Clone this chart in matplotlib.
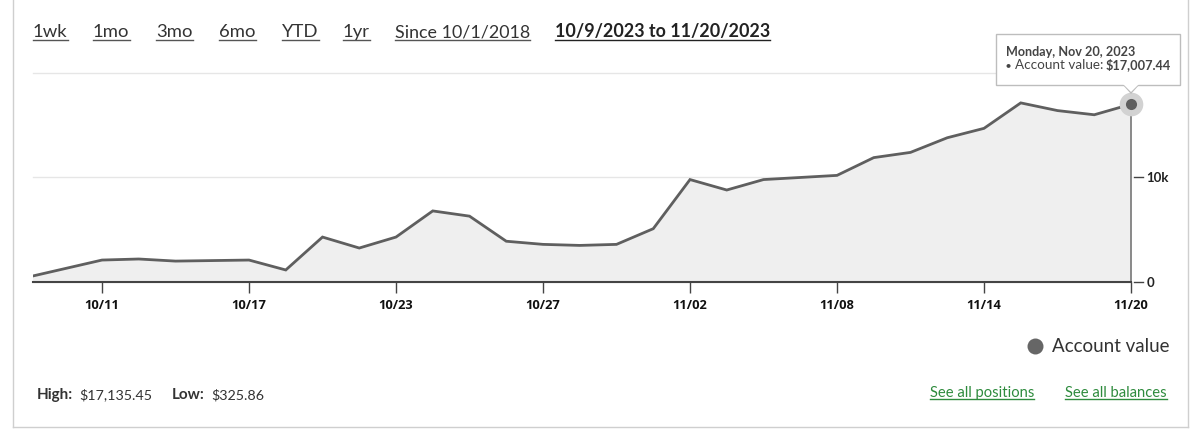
import matplotlib
matplotlib.use("Agg")
import matplotlib.pyplot as plt
from matplotlib.patches import Polygon, Rectangle

W, H = 1200, 432

# one value per trading day, 10/9/2023 to 11/20/2023
dias = ['10/09', '10/10', '10/11', '10/12', '10/13', '10/16', '10/17', '10/18',
        '10/19', '10/20', '10/23', '10/24', '10/25', '10/26', '10/27', '10/30',
        '10/31', '11/01', '11/02', '11/03', '11/06', '11/07', '11/08', '11/09',
        '11/10', '11/13', '11/14', '11/15', '11/16', '11/17', '11/20']
valores = [480, 1290, 2100, 2200, 2000, 2050, 2100, 1150,
           4300, 3250, 4300, 6800, 6300, 3900, 3600, 3500,
           3600, 5100, 9800, 8800, 9800, 10000, 10200, 11900,
           12400, 13800, 14700, 17135, 16400, 16000, 17007]
x_ticks = ['10/11', '10/17', '10/23', '10/27', '11/02', '11/08', '11/14', '11/20']
y_ticks = [0, 10000, 20000]
y_labels = ['0', '10k', '']
periodos = ['1wk', '1mo', '3mo', '6mo', 'YTD', '1yr', 'Since 10/1/2018']
periodos_x = [33, 93, 156, 219, 282, 343, 395]
periodos_tam = [13.3, 13.3, 13.3, 13.3, 13.3, 13.3, 12.9]

plt.rcParams['font.family'] = ['Lato', 'DejaVu Sans']

fig = plt.figure(figsize=(W / 100, H / 100), dpi=100)
ax = fig.add_axes([33 / W, 1 - 282 / H, (1131 - 33) / W, (282 - 74) / H])
# the first day starts a little left of the plot area and gets clipped
ax.set_xlim(0.122, len(dias) - 1)
ax.set_ylim(0, 19900)

x = list(range(len(dias)))
ax.fill_between(x, valores, 0, color='#efefef', lw=0)
ax.plot(x, valores, color='#5f5f5f', lw=2, solid_joinstyle='miter')

ax.set_yticks(y_ticks[:2], y_labels[:2], fontsize=9.5, fontweight='bold', color='#222222')
ax.yaxis.tick_right()
ax.tick_params(axis='y', length=0, pad=11)
for v in y_ticks:
    ax.plot([0, 1], [v, v], transform=ax.get_yaxis_transform(), color='#e6e6e6', lw=1, zorder=0, clip_on=False)
ax.plot([1.003, 1.011], [0, 0], transform=ax.get_yaxis_transform(), color='#444444', lw=1, clip_on=False)
ax.plot([1.003, 1.011], [10000, 10000], transform=ax.get_yaxis_transform(), color='#444444', lw=1, clip_on=False)

ax.set_xticks([dias.index(d) for d in x_ticks], x_ticks, fontsize=9.3, fontweight='bold',
              family=['Open Sans', 'DejaVu Sans'], color='#111111')
ax.tick_params(axis='x', length=8, width=1, color='#444444', pad=4)

for lado in ['top', 'left', 'right']:
    ax.spines[lado].set_visible(False)
ax.spines['bottom'].set_color('#444444')
ax.spines['bottom'].set_linewidth(1.5)

# crosshair and last point
ultimo = len(dias) - 1
ax.plot([ultimo, ultimo], [0, 20000], color='#777777', lw=1.2, clip_on=False)
ax.plot(ultimo, valores[-1], 'o', ms=17, color='#d2d2d2', clip_on=False, mew=0)
ax.plot(ultimo, valores[-1], 'o', ms=8, color='#5f5f5f', clip_on=False, mew=0)


def px(x, y):
    return x / W, 1 - y / H


def texto(x, y, s, sublinhado=None, **kw):
    t = fig.text(*px(x, y), s, va='center', **kw)
    if sublinhado:
        caixa = t.get_window_extent(fig.canvas.get_renderer())
        y0 = y + kw.get('fontsize', 10) * 0.6
        fig.add_artist(plt.Line2D([caixa.x0 / W, caixa.x1 / W], [1 - y0 / H] * 2, color=sublinhado, lw=1))
    return t


# period selector
for nome, xp, tam in zip(periodos, periodos_x, periodos_tam):
    texto(xp, 32, nome, sublinhado='#555555', fontsize=tam, color='#333333')
texto(555, 32, '10/9/2023 to 11/20/2023', sublinhado='#222222', fontsize=12.9, fontweight='bold', color='#222222')

# card border
for xs, ys in [([13, 13], [0, 427]), ([13, 1188], [427, 427]), ([1188, 1188], [0, 427])]:
    fig.add_artist(plt.Line2D([a / W for a in xs], [1 - b / H for b in ys], color='#cfcfcf', lw=1))

# tooltip
fig.add_artist(Rectangle(px(997, 86), 184 / W, 51 / H, transform=fig.transFigure, fc='#d8d8d8', ec='none'))
fig.add_artist(Polygon([px(1122, 84), px(1140, 84), px(1131, 94)], transform=fig.transFigure, fc='#bbbbbb', ec='none'))
fig.add_artist(Rectangle(px(996, 85), 184 / W, 51 / H, transform=fig.transFigure, fc='white', ec='#bdbdbd', lw=1))
fig.add_artist(Polygon([px(1123, 84), px(1139, 84), px(1131, 92)], transform=fig.transFigure, fc='white', ec='none'))
texto(1006, 52, 'Monday, Nov 20, 2023', fontsize=9.1, fontweight='bold', color='#444444')
texto(1006, 65, '●', fontsize=6, color='#444444')
texto(1015, 65, 'Account value:', fontsize=9.7, color='#444444')
texto(1106, 65, '$17,007.44', fontsize=9.2, fontweight='bold', color='#444444')

# legend
fig.add_artist(plt.Line2D([1035 / W], [1 - 346 / H], marker='o', ms=11.5, color='#666666', mew=0, ls=''))
texto(1052, 346, 'Account value', fontsize=13.5, color='#333333')

# footer
texto(37, 395, 'High:', fontsize=11, fontweight='bold', color='#333333')
texto(79, 395, '$17,135.45', fontsize=10.3, color='#333333')
texto(172, 395, 'Low:', fontsize=11, fontweight='bold', color='#333333')
texto(211, 395, '$325.86', fontsize=10.3, color='#333333')
texto(930, 393, 'See all positions', sublinhado='#2e8b3d', fontsize=10.6, color='#2e8b3d')
texto(1065, 393, 'See all balances', sublinhado='#2e8b3d', fontsize=10.6, color='#2e8b3d')

fig.savefig('out.png', dpi=100)
